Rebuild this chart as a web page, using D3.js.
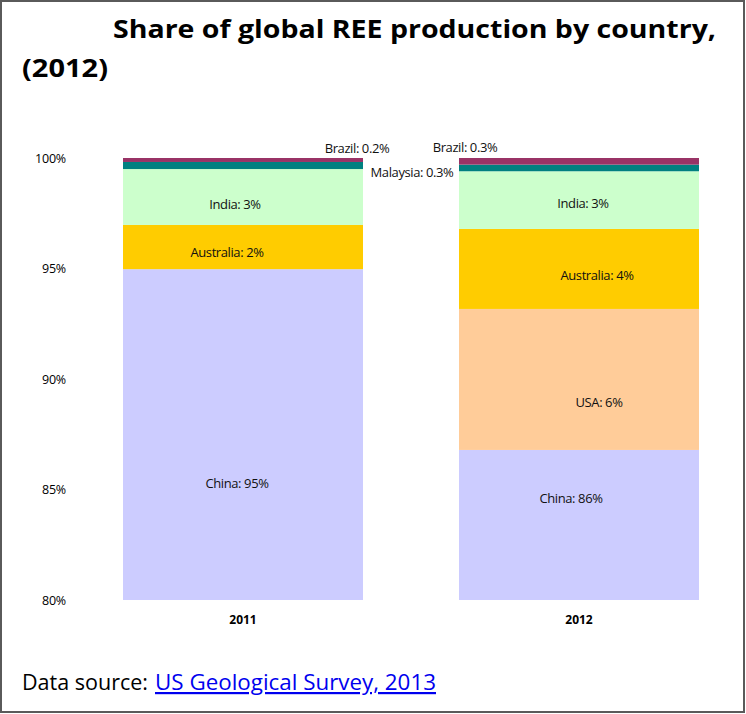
<!DOCTYPE html>
<html><head><meta charset="utf-8">
<script src="https://cdn.jsdelivr.net/npm/d3@7"></script>
<style>
html,body{margin:0;padding:0;background:#fff;}
svg{display:block;}
</style></head>
<body>
<script>
// ---- data ----
const years = ["2011", "2012"];
const seriesNames = ["China", "USA", "Australia", "India", "Malaysia", "Brazil"];
const china     = [94.97, 86.79];
const usa       = [0.00, 6.38];
const australia = [2.00, 3.62];
const india     = [2.53, 2.61];
const malaysia  = [0.32, 0.30];
const brazil    = [0.18, 0.30];
const yTicks = [80, 85, 90, 95, 100];
const yTickLabels = ["80%", "85%", "90%", "95%", "100%"];
// segment labels (text, series, year, value where the label sits)
const labelTexts  = ["China: 95%", "Australia: 2%", "India: 3%", "Brazil: 0.2%", "Malaysia: 0.3%",
                     "China: 86%", "USA: 6%", "Australia: 4%", "India: 3%", "Brazil: 0.3%"];
const labelSeries = ["China", "Australia", "India", "Brazil", "Malaysia",
                     "China", "USA", "Australia", "India", "Brazil"];
const labelYears  = ["2011", "2011", "2011", "2011", "2011",
                     "2012", "2012", "2012", "2012", "2012"];
const labelAt     = [85.3, 95.75, 97.9, 100.45, 99.35,
                     84.6, 88.95, 94.7, 97.95, 100.5];

// ---- styles / layout ----
const W = 746, H = 714;
const colors = {China:"#ccccff", USA:"#ffcc99", Australia:"#ffcc00", India:"#ccffcc", Malaysia:"#008080", Brazil:"#993366"};
const labelDx = [-6, -16, -8, 114, 169, -8, 20, 18, 4, -114];
const FONT = "'Open Sans', 'Noto Sans', sans-serif";

const values = {China:china, USA:usa, Australia:australia, India:india, Malaysia:malaysia, Brazil:brazil};
const rows = years.map((y,i)=>{const r={year:y}; seriesNames.forEach(s=>r[s]=values[s][i]); return r;});

const svg = d3.select("body").append("svg").attr("width",W).attr("height",H);
svg.append("rect").attr("x",1).attr("y",1).attr("width",W-3).attr("height",H-3)
  .attr("fill","#fff").attr("stroke","#5a5a5a").attr("stroke-width",2);

const x = d3.scaleBand().domain(years).range([75, 747]).paddingInner(96/336).paddingOuter(48/336);
const y = d3.scaleLinear().domain([80,100]).range([600,158]);

const stack = d3.stack().keys(seriesNames)(rows);

svg.append("g").selectAll("g").data(stack).join("g")
  .attr("fill", d=>colors[d.key])
  .selectAll("rect").data(d=>d).join("rect")
  .attr("x", d=>x(d.data.year))
  .attr("width", x.bandwidth())
  .attr("y", d=>y(Math.max(d[1],80)))
  .attr("height", d=>Math.max(0, y(Math.max(d[0],80)) - y(Math.max(d[1],80))));

// y axis labels
const yAxis = d3.axisLeft(y).tickValues(yTicks).tickFormat((d,i)=>yTickLabels[i]).tickSize(0).tickPadding(0);
const gy = svg.append("g").attr("transform","translate(66,0)").call(yAxis);
gy.select(".domain").remove();
gy.selectAll("text").attr("font-family",FONT).attr("font-size",12.5).attr("letter-spacing",-0.2).attr("fill","#000");

// x axis labels
const xAxis = d3.axisBottom(x).tickSize(0).tickPadding(0);
const gx = svg.append("g").attr("transform","translate(0,615)").call(xAxis);
gx.select(".domain").remove();
gx.selectAll("text").attr("font-family",FONT).attr("font-size",12).attr("font-weight","bold").attr("fill","#000");

// segment labels
svg.append("g").selectAll("text").data(labelTexts).join("text")
  .attr("x", (d,i)=>x(labelYears[i]) + x.bandwidth()/2 + labelDx[i])
  .attr("y", (d,i)=>y(labelAt[i]))
  .attr("text-anchor","middle").attr("dominant-baseline","central")
  .attr("font-family",FONT).attr("font-size",13).attr("letter-spacing",-0.4).attr("fill","#111")
  .text(d=>d);

// title
svg.append("text").attr("x",113).attr("y",38).attr("font-family",FONT).attr("font-weight","bold")
  .attr("font-size",25).attr("textLength",603).attr("lengthAdjust","spacingAndGlyphs")
  .text("Share of global REE production by country,");
svg.append("text").attr("x",22).attr("y",77).attr("font-family",FONT).attr("font-weight","bold")
  .attr("font-size",25).attr("textLength",86).attr("lengthAdjust","spacingAndGlyphs")
  .text("(2012)");

// footer
svg.append("text").attr("x",22).attr("y",690).attr("font-family",FONT).attr("font-size",22)
  .attr("textLength",126).attr("lengthAdjust","spacingAndGlyphs").attr("fill","#000")
  .text("Data source:");
svg.append("text").attr("x",155).attr("y",690).attr("font-family",FONT).attr("font-size",22)
  .attr("textLength",281).attr("lengthAdjust","spacingAndGlyphs").attr("fill","#0000ee")
  .attr("text-decoration","underline")
  .text("US Geological Survey, 2013");
</script>
</body></html>
